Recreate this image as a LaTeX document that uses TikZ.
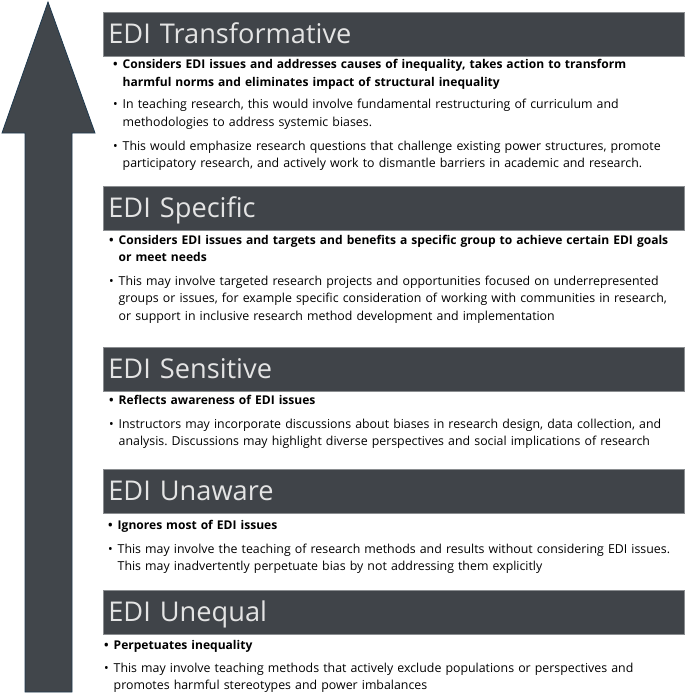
\documentclass[tikz,border=0pt]{standalone}
\usepackage{fontspec}
\setmainfont{Open Sans}
\frenchspacing

\definecolor{barfill}{HTML}{404449}
\definecolor{barline}{HTML}{8A8D90}
\definecolor{arrowfill}{HTML}{41464B}
\definecolor{arrowline}{HTML}{1F3A4F}
\definecolor{titlegray}{HTML}{E4E4E4}

\newcommand{\bul}{\makebox[9.5bp][l]{\textbullet}}

\tikzset{
  levelbar/.style={draw=barline, line width=0.6bp, fill=barfill, anchor=north west,
    minimum width=581bp, minimum height=44bp, inner xsep=5bp, inner ysep=0pt,
    text width=571bp, text height=19bp, text depth=0pt, align=left,
    text=titlegray, font=\fontsize{27.3}{32}\selectfont},
  point/.style={anchor=base west, inner sep=0pt, text width=620bp, align=left,
    font=\fontsize{12.4}{17.7}\selectfont,
    execute at begin node={\hangindent=9.5bp\hangafter=1}},
  keypoint/.style={point, font=\fontsize{12.1}{17.7}\selectfont\bfseries},
  arrowbody/.style={fill=arrowfill, draw=arrowline, line width=0.8bp, line join=miter}
}

\begin{document}
\begin{tikzpicture}[x=1bp, y=-1bp]
\useasboundingbox (0,0) rectangle (685,695);

% Flecha de progresión
\draw[arrowbody] (48,2) -- (95,133) -- (72,133) -- (72,692) -- (25,692) -- (25,133) -- (2,133) -- cycle;

% EDI Transformative
\node[levelbar] (tr) at (103,12) {EDI Transformative};
\node[keypoint] (tr1) at (113,69) {\bul Considers EDI issues and addresses causes of inequality, takes action to transform\newline harmful norms and eliminates impact of structural inequality};
\node[point] (tr2) at (113,109) {\bul In teaching research, this would involve fundamental restructuring of curriculum and\newline methodologies to address systemic biases.};
\node[point] (tr3) at (113,150) {\bul This would emphasize research questions that challenge existing power structures, promote\newline participatory research, and actively work to dismantle barriers in academic and research.};

% EDI Specific
\node[levelbar] (sp) at (103,186) {EDI Specific};
\node[keypoint] (sp1) at (109,244) {\bul Considers EDI issues and targets and benefits a specific group to achieve certain EDI goals\newline or meet needs};
\node[point] (sp2) at (109,285) {\bul This may involve targeted research projects and opportunities focused on underrepresented\newline groups or issues, for example specific consideration of working with communities in research,\newline or support in inclusive research method development and implementation};

% EDI Sensitive
\node[levelbar] (se) at (103,347) {EDI Sensitive};
\node[keypoint] (se1) at (109,404) {\bul Reflects awareness of EDI issues};
\node[point] (se2) at (109,428) {\bul Instructors may incorporate discussions about biases in research design, data collection, and\newline analysis. Discussions may highlight diverse perspectives and social implications of research};

% EDI Unaware
\node[levelbar] (un) at (103,469) {EDI Unaware};
\node[keypoint] (un1) at (108,529) {\bul Ignores most of EDI issues};
\node[point] (un2) at (108,553) {\bul This may involve the teaching of research methods and results without considering EDI issues.\newline This may inadvertently perpetuate bias by not addressing them explicitly};

% EDI Unequal
\node[levelbar] (ue) at (103,590) {EDI Unequal};
\node[keypoint] (ue1) at (104,649) {\bul Perpetuates inequality};
\node[point] (ue2) at (104,672) {\bul This may involve teaching methods that actively exclude populations or perspectives and\newline promotes harmful stereotypes and power imbalances};
\end{tikzpicture}
\end{document}
